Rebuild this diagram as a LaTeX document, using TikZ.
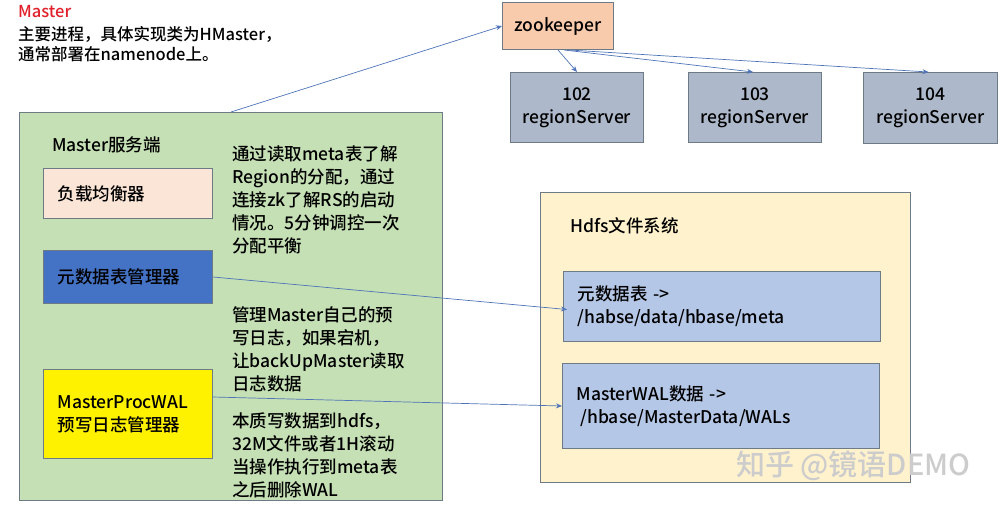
\documentclass[tikz,border=0pt]{standalone}
\usepackage{fontspec}
\setmainfont{Noto Sans CJK SC Medium}
\usetikzlibrary{arrows.meta}
\definecolor{greenbg}{HTML}{C5E0B4}
\definecolor{peach}{HTML}{FBE5D6}
\definecolor{zkfill}{HTML}{F8CBAD}
\definecolor{rsfill}{HTML}{ADB9CA}
\definecolor{hdfsbg}{HTML}{FFF2CC}
\definecolor{hfill}{HTML}{B4C7E7}
\definecolor{mblue}{HTML}{4472C4}
\definecolor{arrowc}{HTML}{4F74B8}
\definecolor{edgec}{HTML}{6E7A86}
\definecolor{redt}{HTML}{E0202A}
\tikzset{
  fnt/.style={font=\fontsize{17.5}{23}\selectfont},
  box/.style={draw=edgec, line width=1pt, anchor=north west, inner sep=0pt, fnt},
  lbox/.style={box, align=left, inner xsep=14pt},
  cbox/.style={box, align=center},
  txt/.style={anchor=north west, inner sep=0pt, align=left, fnt},
  conn/.style={draw=arrowc, line width=0.7pt, -{Stealth[length=6pt,width=5pt]}},
}
\begin{document}
\begin{tikzpicture}[x=1pt,y=-1pt]
\useasboundingbox (0,0) rectangle (1004,511);
% header
\node[txt, text=redt, font=\fontsize{16.5}{20}\selectfont] (mt) at (18,5) {Master};
\node[txt, font=\fontsize{16.5}{20}\selectfont] (mdesc) at (18,26) {主要进程，具体实现类为HMaster，\\通常部署在namenode上。};
% green master box
\node[box, fill=greenbg, minimum width=423pt, minimum height=388pt] (gb) at (19,112) {};
\node[txt] (gbt) at (52,137) {Master服务端};
\node[lbox, fill=peach, minimum height=50pt, text width=141pt] (lb) at (43,168) {负载均衡器};
\node[lbox, fill=mblue, minimum height=53pt, text width=141pt] (mm) at (43,250) {元数据表管理器};
\node[lbox, fill=yellow, minimum height=89pt, text width=141pt] (wal) at (43,369) {MasterProcWAL\\预写日志管理器};
\node[txt] (t1) at (232,146) {通过读取meta表了解\\Region的分配，通过\\连接zk了解RS的启动\\情况。5分钟调控一次\\分配平衡};
\node[txt] (t2) at (232,306) {管理Master自己的预\\写日志，如果宕机，\\让backUpMaster读取\\日志数据};
\node[txt] (t3) at (232,413) {本质写数据到hdfs，\\32M文件或者1H滚动\\当操作执行到meta表\\之后删除WAL};
% zookeeper and region servers
\node[cbox, fill=zkfill, minimum width=111pt, minimum height=47pt] (zk) at (502,2) {zookeeper};
\node[cbox, fill=rsfill, minimum width=133pt, minimum height=70pt] (rs2) at (510,72) {102\\regionServer};
\node[cbox, fill=rsfill, minimum width=133pt, minimum height=70pt] (rs3) at (688,72) {103\\regionServer};
\node[cbox, fill=rsfill, minimum width=134pt, minimum height=71pt] (rs4) at (863,72) {104\\regionServer};
% hdfs
\node[box, fill=hdfsbg, minimum width=370pt, minimum height=290pt] (hd) at (540,192) {};
\node[txt] (hdt) at (570,217) {Hdfs文件系统};
\node[lbox, fill=hfill, minimum height=70pt, text width=289pt] (h1) at (563,271) {元数据表 ->\\/habse/data/hbase/meta};
\node[lbox, fill=hfill, minimum height=85pt, text width=289pt] (h2) at (562,363) {MasterWAL数据 ->\\\hspace{4pt}/hbase/MasterData/WALs};
% watermark
\node[anchor=west, inner sep=0pt, text=gray!40, font=\fontsize{29}{32}\selectfont] (wm) at (736,466) {知乎 @镜语DEMO};
% connectors
\draw[conn] (gb.north) -- (zk.west);
\draw[conn] (zk.south) -- (rs2.north);
\draw[conn] ([xshift=6pt]zk.south) -- ([xshift=-2pt]rs3.north);
\draw[conn] ([xshift=11pt]zk.south) -- ([xshift=-2pt]rs4.north);
\draw[conn] (mm.east) -- ([xshift=4pt,yshift=-3pt]h1.west);
\draw[conn] ([yshift=17pt]wal.east) -- (h2.west);
\end{tikzpicture}
\end{document}
